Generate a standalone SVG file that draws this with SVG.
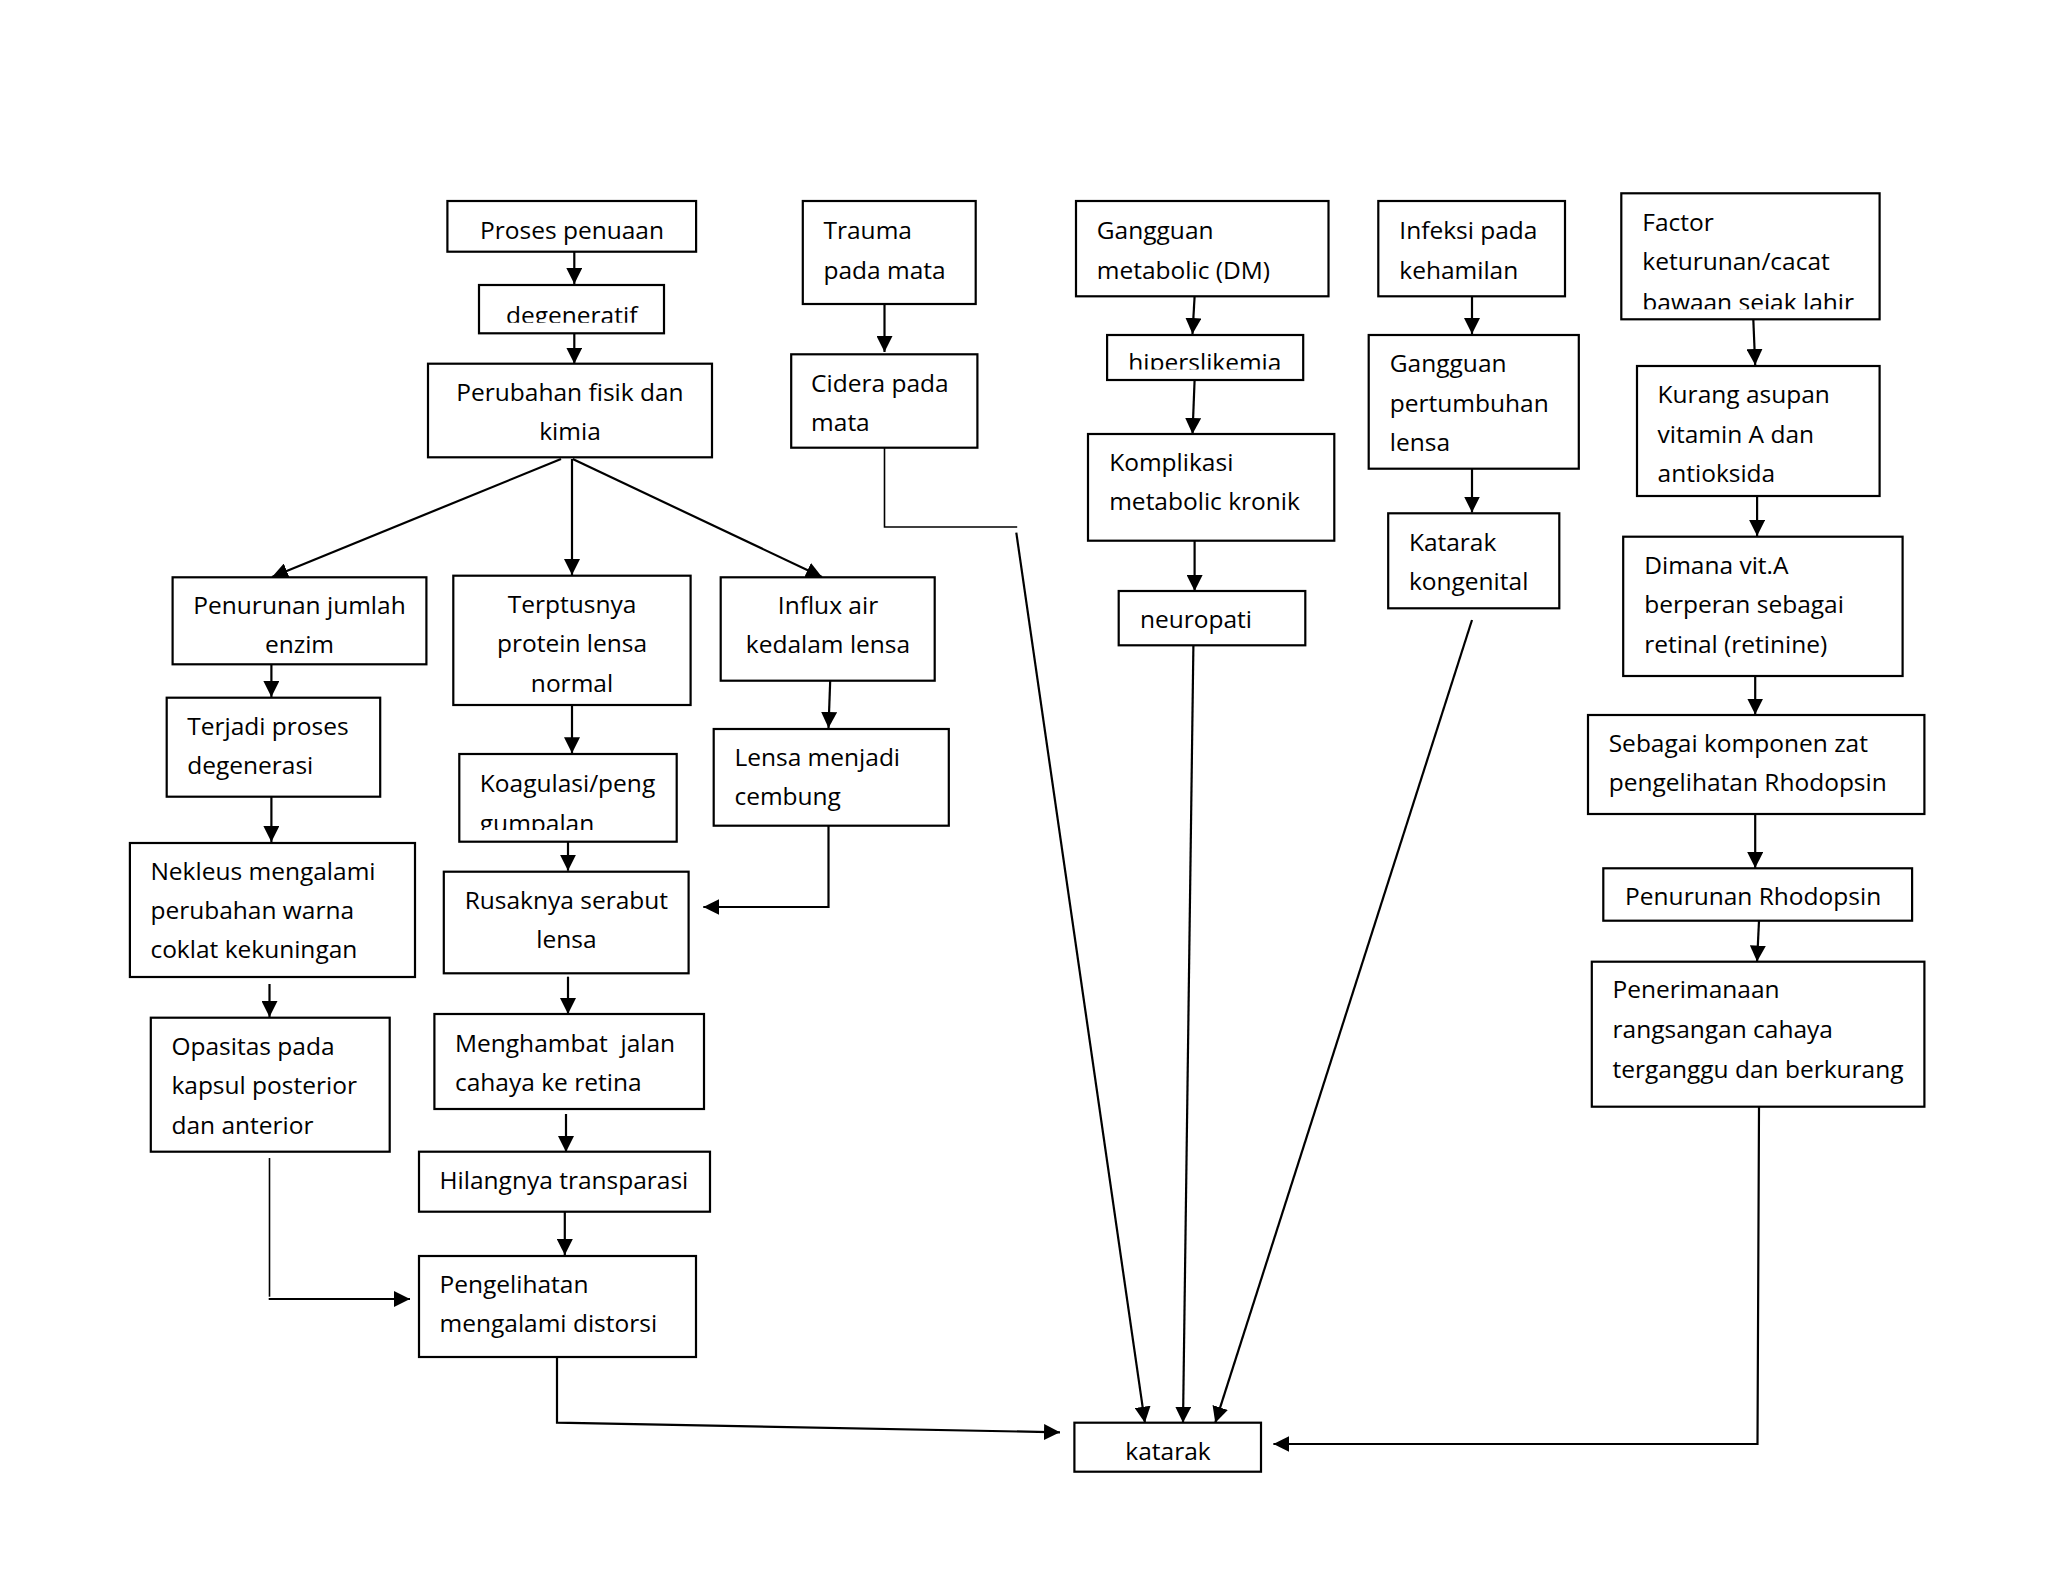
<svg xmlns="http://www.w3.org/2000/svg" width="2048" height="1582" viewBox="0 0 2048 1582">
<style>
.box{fill:#fff;stroke:#000;stroke-width:2.2}
.t{font-family:"Open Sans","Noto Sans","Liberation Sans",sans-serif;font-size:24.5px;fill:#000;white-space:pre}
.c{text-anchor:middle}
.ln{fill:none;stroke:#000;stroke-width:2.2}
.thin{fill:none;stroke:#000;stroke-width:1.6}
</style>
<defs>
<marker id="ah" markerUnits="userSpaceOnUse" viewBox="0 0 16 16" refX="16" refY="8" markerWidth="16" markerHeight="16" orient="auto">
<path d="M0,0 L16,8 L0,16 Z" fill="#000"/>
</marker>
<clipPath id="cp-deg"><rect x="479" y="285" width="185" height="37.7"/></clipPath>
<clipPath id="cp-hip"><rect x="1107" y="335" width="196" height="34.5"/></clipPath>
<clipPath id="cp-koa"><rect x="459" y="754" width="217" height="76"/></clipPath>
<clipPath id="cp-fac"><rect x="1621" y="193" width="258" height="116.3"/></clipPath>
</defs>
<rect width="2048" height="1582" fill="#fff"/>

<g id="connectors">
<path class="ln" d="M574.3,252 V284" marker-end="url(#ah)"/>
<path class="ln" d="M574.3,333.3 V363.7" marker-end="url(#ah)"/>
<path class="ln" d="M561,459 L272,577" marker-end="url(#ah)"/>
<path class="ln" d="M572,459 V575" marker-end="url(#ah)"/>
<path class="ln" d="M572.7,459 L822,577" marker-end="url(#ah)"/>
<path class="ln" d="M271.4,664.3 V697" marker-end="url(#ah)"/>
<path class="ln" d="M271.4,796.7 V842" marker-end="url(#ah)"/>
<path class="ln" d="M269.5,984 V1017" marker-end="url(#ah)"/>
<path class="thin" d="M269.5,1158 V1296.7"/>
<path class="ln" d="M268.7,1299 H410" marker-end="url(#ah)"/>
<path class="ln" d="M572,705 V753.3" marker-end="url(#ah)"/>
<path class="ln" d="M568,841.7 V870.7" marker-end="url(#ah)"/>
<path class="ln" d="M830.2,680.7 L828.5,728" marker-end="url(#ah)"/>
<path class="ln" d="M828.5,825.7 V907 H703.3" marker-end="url(#ah)"/>
<path class="ln" d="M568,976.7 V1014" marker-end="url(#ah)"/>
<path class="ln" d="M566,1114 V1152" marker-end="url(#ah)"/>
<path class="ln" d="M564.8,1211.7 V1255" marker-end="url(#ah)"/>
<path class="ln" d="M557,1357 V1422.7 L1060,1432.3" marker-end="url(#ah)"/>
<path class="ln" d="M884.5,304 V352" marker-end="url(#ah)"/>
<path class="thin" d="M884.5,447.7 V527 H1017.2"/>
<path class="ln" d="M1016.3,532.7 L1144.9,1422.7" marker-end="url(#ah)"/>
<path class="ln" d="M1194.6,296.3 L1192.5,334" marker-end="url(#ah)"/>
<path class="ln" d="M1194.6,380 L1192.5,434" marker-end="url(#ah)"/>
<path class="ln" d="M1194.6,540.7 V591" marker-end="url(#ah)"/>
<path class="ln" d="M1193.4,645.3 L1183,1422.7" marker-end="url(#ah)"/>
<path class="ln" d="M1472,296.3 V334" marker-end="url(#ah)"/>
<path class="ln" d="M1472,468.7 V512.5" marker-end="url(#ah)"/>
<path class="ln" d="M1472,620 L1215.3,1422.7" marker-end="url(#ah)"/>
<path class="ln" d="M1753.3,319.3 L1755.2,365" marker-end="url(#ah)"/>
<path class="ln" d="M1757.1,496 V536" marker-end="url(#ah)"/>
<path class="ln" d="M1755.2,676 V714.5" marker-end="url(#ah)"/>
<path class="ln" d="M1755.2,814 V868" marker-end="url(#ah)"/>
<path class="ln" d="M1759,920.7 L1757.1,961.5" marker-end="url(#ah)"/>
<path class="ln" d="M1759,1107 L1757.5,1444 H1273.4" marker-end="url(#ah)"/>
</g>

<g id="n-proses"><rect class="box" x="447.4" y="201" width="248.7" height="50.7"/><text class="t c" x="572" y="239.3">Proses penuaan</text></g>
<g id="n-degeneratif"><rect class="box" x="479" y="285" width="185" height="48.3"/><text class="t c" x="571.7" y="323.5" clip-path="url(#cp-deg)">degeneratif</text></g>
<g id="n-perubahan"><rect class="box" x="428" y="363.7" width="284" height="93.6"/><text class="t c" x="570" y="400.7">Perubahan fisik dan</text><text class="t c" x="570" y="440">kimia</text></g>
<g id="n-penurunan-enzim"><rect class="box" x="172.6" y="577.3" width="253.8" height="87"/><text class="t c" x="299.5" y="614.3">Penurunan jumlah</text><text class="t c" x="299.5" y="653.3">enzim</text></g>
<g id="n-terptusnya"><rect class="box" x="453.3" y="575.7" width="237.3" height="129.3"/><text class="t c" x="572" y="612.7">Terptusnya</text><text class="t c" x="572" y="652">protein lensa</text><text class="t c" x="572" y="692">normal</text></g>
<g id="n-influx"><rect class="box" x="720.7" y="577.3" width="214" height="103.4"/><text class="t c" x="828" y="614.3">Influx air</text><text class="t c" x="828" y="653.3">kedalam lensa</text></g>
<g id="n-terjadi"><rect class="box" x="166.7" y="697.7" width="213.5" height="99"/><text class="t" x="187.2" y="735">Terjadi proses</text><text class="t" x="187.2" y="774">degenerasi</text></g>
<g id="n-nekleus"><rect class="box" x="129.9" y="843" width="285.1" height="134"/><text class="t" x="150.4" y="880">Nekleus mengalami</text><text class="t" x="150.4" y="919.3">perubahan warna</text><text class="t" x="150.4" y="958.3">coklat kekuningan</text></g>
<g id="n-opasitas"><rect class="box" x="150.8" y="1017.7" width="238.9" height="134"/><text class="t" x="171.4" y="1055">Opasitas pada</text><text class="t" x="171.4" y="1094.3">kapsul posterior</text><text class="t" x="171.4" y="1134">dan anterior</text></g>
<g id="n-koagulasi"><rect class="box" x="459.3" y="754" width="217.4" height="87.7"/><text class="t" x="479.8" y="791.7">Koagulasi/peng</text><text class="t" x="479.8" y="831.5" clip-path="url(#cp-koa)">gumpalan</text></g>
<g id="n-rusaknya"><rect class="box" x="443.8" y="871.7" width="244.8" height="101.6"/><text class="t c" x="566.4" y="909.3">Rusaknya serabut</text><text class="t c" x="566.4" y="948.3">lensa</text></g>
<g id="n-lensa-cembung"><rect class="box" x="713.7" y="729" width="235.1" height="96.7"/><text class="t" x="734.4" y="766">Lensa menjadi</text><text class="t" x="734.4" y="805">cembung</text></g>
<g id="n-menghambat"><rect class="box" x="434.4" y="1014" width="269.6" height="95"/><text class="t" x="455" y="1051.7" xml:space="preserve">Menghambat  jalan</text><text class="t" x="455" y="1091">cahaya ke retina</text></g>
<g id="n-hilangnya"><rect class="box" x="419" y="1151.7" width="291" height="60"/><text class="t" x="439.5" y="1189.3">Hilangnya transparasi</text></g>
<g id="n-pengelihatan"><rect class="box" x="419" y="1256" width="277" height="101"/><text class="t" x="439.5" y="1293.3">Pengelihatan</text><text class="t" x="439.5" y="1332.3">mengalami distorsi</text></g>
<g id="n-trauma"><rect class="box" x="802.8" y="201" width="172.9" height="103"/><text class="t" x="823.5" y="239.3">Trauma</text><text class="t" x="823.5" y="278.7">pada mata</text></g>
<g id="n-cidera"><rect class="box" x="791.2" y="354.3" width="186.2" height="93.4"/><text class="t" x="811.1" y="392">Cidera pada</text><text class="t" x="811.1" y="430.7">mata</text></g>
<g id="n-gangguan-dm"><rect class="box" x="1076" y="201" width="252.5" height="95.3"/><text class="t" x="1096.8" y="239.3">Gangguan</text><text class="t" x="1096.8" y="278.7">metabolic (DM)</text></g>
<g id="n-hiper"><rect class="box" x="1107.1" y="335" width="196.1" height="45"/><text class="t" x="1128.3" y="371" clip-path="url(#cp-hip)">hiperslikemia</text></g>
<g id="n-komplikasi"><rect class="box" x="1088" y="434" width="246.3" height="106.7"/><text class="t" x="1109.2" y="470.7">Komplikasi</text><text class="t" x="1109.2" y="510">metabolic kronik</text></g>
<g id="n-neuropati"><rect class="box" x="1118.7" y="591" width="186.6" height="54.3"/><text class="t" x="1139.9" y="627.7">neuropati</text></g>
<g id="n-infeksi"><rect class="box" x="1378.3" y="201" width="186.7" height="95.3"/><text class="t" x="1399.3" y="239.3">Infeksi pada</text><text class="t" x="1399.3" y="278.7">kehamilan</text></g>
<g id="n-gangguan-pert"><rect class="box" x="1368.7" y="335" width="210.1" height="133.7"/><text class="t" x="1389.8" y="372.3">Gangguan</text><text class="t" x="1389.8" y="411.7">pertumbuhan</text><text class="t" x="1389.8" y="450.7">lensa</text></g>
<g id="n-katarak-kongenital"><rect class="box" x="1388.2" y="513.3" width="171.1" height="95"/><text class="t" x="1408.9" y="550.7">Katarak</text><text class="t" x="1408.9" y="590">kongenital</text></g>
<g id="n-factor"><rect class="box" x="1621.3" y="193.3" width="258.3" height="126"/><text class="t" x="1642.3" y="231">Factor</text><text class="t" x="1642.3" y="270">keturunan/cacat</text><text class="t" x="1642.3" y="310.5" clip-path="url(#cp-fac)">bawaan sejak lahir</text></g>
<g id="n-kurang"><rect class="box" x="1637" y="366" width="242.6" height="130"/><text class="t" x="1657.6" y="403.3">Kurang asupan</text><text class="t" x="1657.6" y="442.7">vitamin A dan</text><text class="t" x="1657.6" y="482">antioksida</text></g>
<g id="n-dimana"><rect class="box" x="1623.2" y="536.7" width="279.4" height="139.3"/><text class="t" x="1644.2" y="574.3">Dimana vit.A</text><text class="t" x="1644.2" y="613.3">berperan sebagai</text><text class="t" x="1644.2" y="652.7">retinal (retinine)</text></g>
<g id="n-sebagai"><rect class="box" x="1588" y="715" width="336.4" height="99"/><text class="t" x="1608.7" y="751.7">Sebagai komponen zat</text><text class="t" x="1608.7" y="791">pengelihatan Rhodopsin</text></g>
<g id="n-penurunan-rh"><rect class="box" x="1603.3" y="868.3" width="308.8" height="52.4"/><text class="t" x="1625.1" y="905">Penurunan Rhodopsin</text></g>
<g id="n-penerimanaan"><rect class="box" x="1591.8" y="961.7" width="332.6" height="145"/><text class="t" x="1612.5" y="998.3">Penerimanaan</text><text class="t" x="1612.5" y="1037.7">rangsangan cahaya</text><text class="t" x="1612.5" y="1077.7">terganggu dan berkurang</text></g>
<g id="n-katarak"><rect class="box" x="1074.4" y="1422.7" width="186.6" height="49"/><text class="t c" x="1168" y="1460">katarak</text></g>
</svg>
